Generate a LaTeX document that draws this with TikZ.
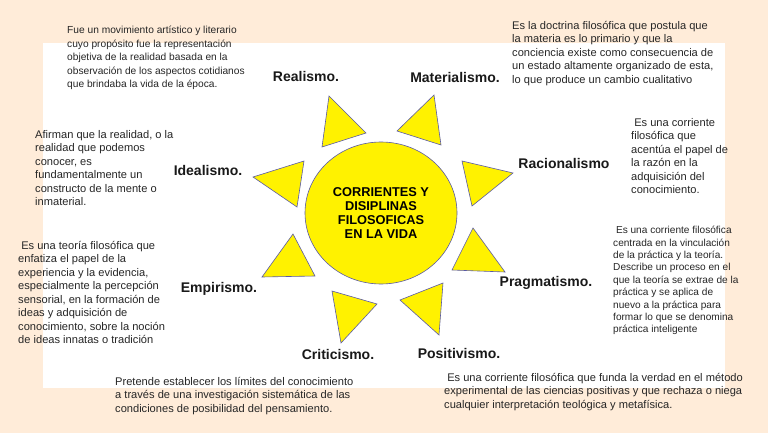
\documentclass[tikz,border=0pt]{standalone}
\usepackage{fontspec}
\setmainfont{Liberation Sans}
\usetikzlibrary{shapes.geometric}
\begin{document}
\begin{tikzpicture}[x=1pt,y=-1pt,
  desc/.style={anchor=north west,inner sep=0pt,align=left,text=black!85,font=\fontsize{11.1}{13.5}\selectfont},
  descr/.style={desc,font=\fontsize{10.2}{13.5}\selectfont},
  descs/.style={desc,font=\fontsize{10.1}{12.4}\selectfont},
  lab/.style={inner sep=0pt,text=black!90,font=\fontsize{14}{16}\selectfont\bfseries},
  ray/.style={fill=yellow,draw=blue!30!gray,line width=0.6pt}]
\fill[orange!15!white] (0,0) rectangle (768,433);
\fill[white] (43,43) rectangle (725,388);
\useasboundingbox (0,0) rectangle (768,433);
\node[ellipse,draw=blue!30!gray,fill=yellow,line width=0.6pt,minimum width=152pt,minimum height=142pt,inner sep=0pt,align=center,font=\fontsize{12.8}{14}\selectfont\bfseries] (c) at (381,213) {CORRIENTES Y\\DISIPLINAS\\FILOSOFICAS\\EN LA VIDA};
\draw[ray] (329,96)--(366,133)--(322,147)--cycle;
\draw[ray] (434,95)--(397,131)--(441,145)--cycle;
\draw[ray] (462,161)--(513,173)--(472,206)--cycle;
\draw[ray] (473,228)--(505,272)--(452,270)--cycle;
\draw[ray] (443,283)--(400,300)--(439,335)--cycle;
\draw[ray] (332,291)--(377,304)--(341,343)--cycle;
\draw[ray] (293,234)--(315,276)--(262,277)--cycle;
\draw[ray] (304,161)--(253,177)--(297,207)--cycle;
\node[lab] (l1) at (306,76) {Realismo.};
\node[lab] (l2) at (455,77) {Materialismo.};
\node[lab] (l3) at (564,163) {Racionalismo};
\node[lab] (l4) at (546,283) {Pragmatismo.};
\node[lab] (l5) at (459,353) {Positivismo.};
\node[lab] (l6) at (338,354) {Criticismo.};
\node[lab] (l7) at (219,289) {Empirismo.};
\node[lab] (l8) at (208,170) {Idealismo.};
\node[descr] (d1) at (67,26) {Fue un movimiento artístico y literario\\cuyo propósito fue la representación\\objetiva de la realidad basada en la\\observación de los aspectos cotidianos\\que brindaba la vida de la época.};
\node[desc] (d2) at (512,21) {Es la doctrina filosófica que postula que\\la materia es lo primario y que la\\conciencia existe como consecuencia de\\un estado altamente organizado de esta,\\lo que produce un cambio cualitativo};
\node[desc] (d3) at (631,118) {\ Es una corriente\\filosófica que\\acentúa el papel de\\la razón en la\\adquisición del\\conocimiento.};
\node[desc] (d4) at (35,130) {Afirman que la realidad, o la\\realidad que podemos\\conocer, es\\fundamentalmente un\\constructo de la mente o\\inmaterial.};
\node[descs] (d5) at (613,226) {\ Es una corriente filosófica\\centrada en la vinculación\\de la práctica y la teoría.\\Describe un proceso en el\\que la teoría se extrae de la\\práctica y se aplica de\\nuevo a la práctica para\\formar lo que se denomina\\práctica inteligente};
\node[desc] (d6) at (18,241) {\ Es una teoría filosófica que\\enfatiza el papel de la\\experiencia y la evidencia,\\especialmente la percepción\\sensorial, en la formación de\\ideas y adquisición de\\conocimiento, sobre la noción\\de ideas innatas o tradición};
\node[desc] (d7) at (115,377) {Pretende establecer los límites del conocimiento\\a través de una investigación sistemática de las\\condiciones de posibilidad del pensamiento.};
\node[desc] (d8) at (444,373) {\ Es una corriente filosófica que funda la verdad en el método\\experimental de las ciencias positivas y que rechaza o niega\\cualquier interpretación teológica y metafísica.};
\end{tikzpicture}
\end{document}
